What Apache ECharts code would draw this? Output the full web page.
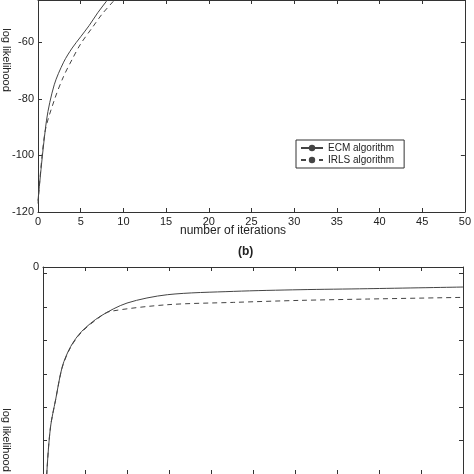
<!DOCTYPE html>
<html>
<head>
<meta charset="utf-8">
<script src="https://cdn.jsdelivr.net/npm/echarts@6/dist/echarts.min.js"></script>
<style>
html, body { margin: 0; padding: 0; background: #fff; }
#chart { width: 474px; height: 474px; }
</style>
</head>
<body>
<div id="chart"></div>
<script>
"use strict";

// panel (a): log likelihood, first 50 iterations
let ecmTop = [[0, -116], [1, -87.5], [1.9, -75], [3, -67], [4, -62], [5, -58], [6, -54], [7, -49.5], [8, -45.5], [9, -41.5]];
let irlsTop = [[0, -117], [0.8, -92], [1.9, -80.5], [3, -72], [4, -66], [5, -60.5], [6.4, -54.6], [7.5, -50], [8.9, -45.2], [10, -41.5]];

// panel (b)
let ecmBottom = [[0, -4200], [0.5, -2990], [0.9, -2390], [1.5, -1990], [2.3, -1490], [3.3, -1190], [4.6, -965], [6.8, -740],
    [10, -540], [14.8, -415], [22.7, -365], [30.6, -340], [38.6, -325], [50, -300]];
let irlsBottom = [[0, -4200], [0.5, -2990], [0.9, -2390], [1.5, -1990], [2.3, -1500], [3.3, -1200], [4.6, -975], [6.8, -745],
    [8, -665], [14.8, -565], [22.7, -530], [30.6, -500], [38.6, -480], [50, -455]];

let legendNames = ["ECM algorithm", "IRLS algorithm"];

let font = "Liberation Sans";
let dark = "#333";

function tickFmt(step) {
    return function (v) { return Math.abs(v % step) < 1e-6 ? String(v) : ""; };
}

function box(gridIndex, min, max, interval, showLabels) {
    let tick = { show: true, inside: true, length: 4, lineStyle: { color: dark } };
    let line = { show: true, onZero: false, lineStyle: { color: dark, width: 1 } };
    return [
        { type: "value", gridIndex: gridIndex, min: min, max: max, interval: interval, position: "bottom",
          axisLine: line, axisTick: tick, splitLine: { show: false },
          axisLabel: { show: showLabels, color: "#222", fontSize: 11, fontFamily: font, margin: 4 } },
        { type: "value", gridIndex: gridIndex, min: min, max: max, interval: interval, position: "top",
          axisLine: line, axisTick: tick, splitLine: { show: false }, axisLabel: { show: false } }
    ];
}

function ybox(gridIndex, min, max, interval) {
    let tick = { show: true, inside: true, length: 4, lineStyle: { color: dark } };
    let line = { show: true, onZero: false, lineStyle: { color: dark, width: 1 } };
    return [
        { type: "value", gridIndex: gridIndex, min: min, max: max, interval: interval, position: "left",
          axisLine: line, axisTick: tick, splitLine: { show: false },
          axisLabel: { color: "#222", fontSize: 11, fontFamily: font, margin: 4, formatter: tickFmt(interval), showMaxLabel: true, showMinLabel: true } },
        { type: "value", gridIndex: gridIndex, min: min, max: max, interval: interval, position: "right",
          axisLine: line, axisTick: tick, splitLine: { show: false }, axisLabel: { show: false } }
    ];
}

let lineStyleSolid = { color: "#444", width: 1, type: "solid" };
let lineStyleDash = { color: "#444", width: 1, type: [5, 4] };

let option = {
    animation: false,
    backgroundColor: "#fff",
    grid: [
        { left: 38, right: 6, top: 0, height: 212 },
        { left: 43, right: 11, top: 267, height: 207 }
    ],
    xAxis: box(0, 0, 50, 5, true).concat(box(1, 0, 50, 5, false)),
    yAxis: ybox(0, -120, -45, 20).concat(ybox(1, -3100, 0, 500)),
    legend: {
        data: legendNames,
        orient: "vertical",
        left: 296, top: 140,
        padding: [3, 10, 3, 4],
        itemGap: 2,
        itemWidth: 22, itemHeight: 8,
        borderColor: dark, borderWidth: 1,
        backgroundColor: "#fff",
        textStyle: { fontSize: 10, fontFamily: font, color: "#222" }
    },
    graphic: [
        { type: "text", x: 6, y: 60, rotation: -Math.PI / 2, style: { text: "log likelihood", font: "11px " + font, fill: "#222", textAlign: "center", textVerticalAlign: "middle" } },
        { type: "text", x: 180, y: 225, style: { text: "number of iterations", font: "12px " + font, fill: "#222" } },
        { type: "text", x: 238, y: 246, style: { text: "(b)", font: "bold 12px " + font, fill: "#222" } },
        { type: "text", x: 6, y: 440, rotation: -Math.PI / 2, style: { text: "log likelihood", font: "11px " + font, fill: "#222", textAlign: "center", textVerticalAlign: "middle" } }
    ],
    series: [
        { name: legendNames[0], type: "line", xAxisIndex: 0, yAxisIndex: 0, data: ecmTop, symbol: "none", smooth: 0.3, lineStyle: lineStyleSolid, itemStyle: { color: "#444" } },
        { name: legendNames[1], type: "line", xAxisIndex: 0, yAxisIndex: 0, data: irlsTop, symbol: "none", smooth: 0.3, lineStyle: lineStyleDash, itemStyle: { color: "#444" } },
        { name: legendNames[0], type: "line", xAxisIndex: 2, yAxisIndex: 2, data: ecmBottom, symbol: "none", smooth: 0.3, lineStyle: lineStyleSolid, itemStyle: { color: "#444" } },
        { name: legendNames[1], type: "line", xAxisIndex: 2, yAxisIndex: 2, data: irlsBottom, symbol: "none", smooth: 0.3, lineStyle: lineStyleDash, itemStyle: { color: "#444" } }
    ]
};

echarts.init(document.getElementById("chart")).setOption(option);
</script>
</body>
</html>
